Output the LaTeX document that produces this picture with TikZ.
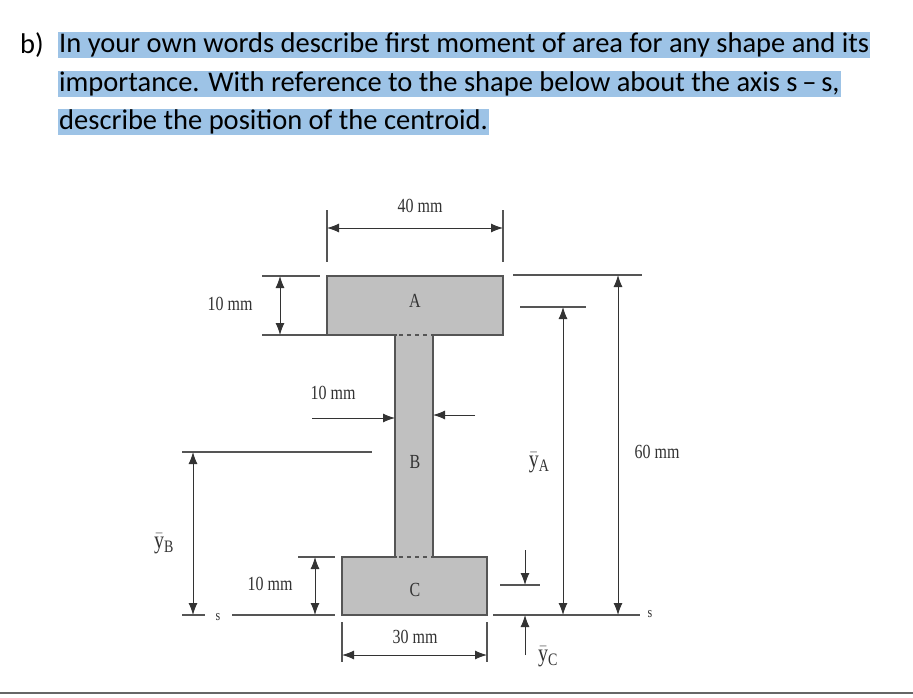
\documentclass[tikz,border=0pt]{standalone}
\usepackage{fontspec}
\setmainfont{Liberation Serif}
\newfontfamily\calib{Carlito}
\usetikzlibrary{arrows.meta}
\definecolor{hl}{HTML}{9DC3E6}
\definecolor{fillg}{HTML}{C0C0C0}
\definecolor{lineg}{HTML}{555555}
\tikzset{
  part/.style={draw=lineg,fill=fillg,line width=1.4pt},
  ext/.style={draw=lineg,line width=1.2pt},
  dim/.style={draw=black!80,line width=1pt,-{Latex[length=12pt,width=9pt]}},
  dimd/.style={draw=black!80,line width=1pt,{Latex[length=12pt,width=9pt]}-{Latex[length=12pt,width=9pt]}},
  lab/.style={font=\fontsize{20}{20}\selectfont,xscale=0.8,text=black!80,inner sep=1pt},
  ylab/.style={font=\fontsize{25}{25}\selectfont,xscale=0.8,text=black!80,inner sep=1pt},
  qline/.style={fill=hl,inner sep=1pt,anchor=west,font=\calib\fontsize{28.5}{30}\selectfont}
}
\begin{document}
\begin{tikzpicture}[x=1pt,y=-1pt]
\useasboundingbox (0,0) rectangle (913,698);
\fill[white] (0,0) rectangle (913,698);
% question text
\node[anchor=west,font=\calib\fontsize{28.5}{30}\selectfont,inner sep=0] (b) at (20,45) {b)};
\node[qline] (q1) at (58,45) {In your own words describe first moment of area for any shape and its};
\node[qline] (q2) at (58,84) {importance. With reference to the shape below about the axis s\,–\,s,};
\node[qline] (q3) at (58,122) {describe the position of the centroid.};
\draw[black!60,line width=2pt] (0,693) -- (913,693);
% shapes
\draw[part] (327,276) rectangle (503,335);
\draw[part] (395,335) rectangle (433,557);
\draw[part] (342,557) rectangle (487,615);
\draw[fillg,line width=1.6pt] (397,335) -- (431,335) (397,557) -- (431,557);
\draw[lineg,line width=1.2pt,dash pattern=on 4pt off 4pt] (399,335) -- (430,335) (399,557) -- (430,557);
\node[lab] (A) at (415,301) {A};
\node[lab] (B) at (415,462) {B};
\node[lab] (C) at (415,590) {C};
% 40 mm
\coordinate (t1) at (327,228); \coordinate (t2) at (503,228);
\draw[ext] (327,210) -- (327,262) (503,210) -- (503,262);
\draw[dimd] (t1) -- (t2);
\node[lab] (l40) at (420,206) {40 mm};
% 10 mm top
\draw[ext] (262,276) -- (320,276) (262,335) -- (327,335);
\coordinate (a1) at (280,276); \coordinate (a2) at (280,335);
\draw[dimd] (a1) -- (a2);
\node[lab] (l10a) at (230,304) {10 mm};
% 10 mm web
\coordinate (w1) at (312,418); \coordinate (w1e) at (395,418);
\coordinate (w2) at (475,415); \coordinate (w2e) at (433,415);
\draw[dim] (w1) -- (w1e);
\draw[dim] (w2) -- (w2e);
\node[lab] (l10b) at (333,393) {10 mm};
% yB
\draw[ext] (182,452) -- (372,452);
\coordinate (yb1) at (193,452); \coordinate (yb2) at (193,615);
\draw[dimd] (yb1) -- (yb2);
\node[ylab] (lyb) at (164,544) {$\bar{\mathrm{y}}_{\mathrm{B}}$};
% s axis
\draw[ext] (182,615) -- (205,615) (232,615) -- (335,615);
\node[lab,font=\fontsize{15}{15}\selectfont] (s1) at (218,617) {s};
\draw[ext] (493,615) -- (640,615);
\node[lab,font=\fontsize{15}{15}\selectfont] (s2) at (650,614) {s};
% 10 mm bottom
\draw[ext] (298,557) -- (335,557);
\coordinate (c1) at (315,557); \coordinate (c2) at (315,615);
\draw[dimd] (c1) -- (c2);
\node[lab] (l10c) at (270,584) {10 mm};
% 30 mm
\draw[ext] (342,622) -- (342,662) (487,622) -- (487,662);
\coordinate (m1) at (342,655); \coordinate (m2) at (487,655);
\draw[dimd] (m1) -- (m2);
\node[lab] (l30) at (415,637) {30 mm};
% right side
\draw[ext] (513,275) -- (642,275);
\draw[ext] (520,307) -- (586,307);
\coordinate (ya1) at (563,307); \coordinate (ya2) at (563,615);
\draw[dimd] (ya1) -- (ya2);
\coordinate (h1) at (618,275); \coordinate (h2) at (618,615);
\draw[dimd] (h1) -- (h2);
\node[lab] (l60) at (657,452) {60 mm};
\node[ylab] (lya) at (539,463) {$\bar{\mathrm{y}}_{\mathrm{A}}$};
\draw[ext] (500,585) -- (540,585);
\coordinate (yc1) at (525,550); \coordinate (yc1e) at (525,585);
\coordinate (yc2) at (525,655); \coordinate (yc2e) at (525,615);
\draw[dim] (yc1) -- (yc1e);
\draw[dim] (yc2) -- (yc2e);
\node[ylab] (lyc) at (548,657) {$\bar{\mathrm{y}}_{\mathrm{C}}$};
\end{tikzpicture}
\end{document}
